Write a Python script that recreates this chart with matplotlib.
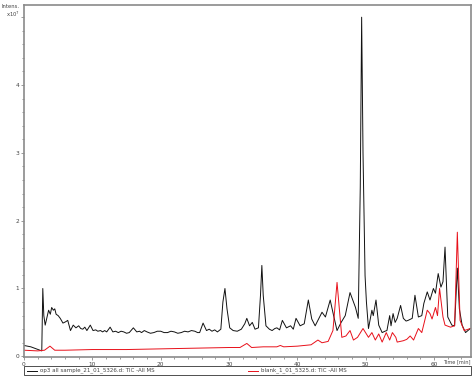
import numpy as np
import matplotlib

matplotlib.use("Agg")
import matplotlib.pyplot as plt
from matplotlib.lines import Line2D
from matplotlib.patches import Rectangle
from matplotlib.ticker import MultipleLocator, FuncFormatter

# retention time (min) and intensity (x10^7)
sample_t = [0.0, 1.0, 2.3, 2.6, 2.75, 2.9, 3.1, 3.3, 3.6, 3.85, 4.05, 4.3, 4.5, 4.7, 5.0,
            5.3, 5.7, 6.1, 6.4, 6.8, 7.2, 7.6, 8.0, 8.3, 8.6, 8.9, 9.2, 9.7, 10.1, 10.5,
            10.8, 11.2, 11.5, 11.8, 12.1, 12.6, 13.0, 13.4, 13.8, 14.2, 14.6, 15.0, 15.4,
            16.0, 16.5, 16.9, 17.2, 17.6, 18.0, 18.5, 19.0, 19.5, 20.0, 20.5, 21.0, 21.5,
            22.0, 22.5, 23.0, 23.5, 24.0, 24.5, 25.0, 25.4, 25.7, 26.2, 26.7, 27.1, 27.5,
            27.9, 28.3, 28.8, 29.1, 29.4, 29.7, 30.1, 30.6, 31.2, 31.8, 32.3, 32.6, 33.0,
            33.4, 33.8, 34.3, 34.6, 34.8, 35.0, 35.4, 35.9, 36.3, 36.7, 37.0, 37.4, 37.8,
            38.4, 39.0, 39.4, 39.8, 40.4, 41.0, 41.6, 42.1, 42.6, 43.1, 43.6, 44.1, 44.8,
            45.3, 45.8, 46.4, 47.0, 47.7, 48.2, 48.5, 48.9, 49.2, 49.4, 49.6, 49.9, 50.1,
            50.4, 50.9, 51.1, 51.5, 51.9, 52.4, 52.8, 53.1, 53.5, 53.7, 54.0, 54.3, 54.6,
            55.1, 55.5, 55.9, 56.2, 56.8, 57.2, 57.7, 58.2, 58.5, 59.0, 59.4, 59.9, 60.2,
            60.6, 61.0, 61.3, 61.6, 62.0, 62.6, 63.0, 63.4, 63.7, 64.1, 64.6, 65.3]
sample_i = [0.16, 0.14, 0.09, 0.08, 1.0, 0.6, 0.46, 0.55, 0.68, 0.62, 0.72, 0.68, 0.70,
            0.62, 0.60, 0.56, 0.49, 0.51, 0.53, 0.38, 0.46, 0.42, 0.45, 0.41, 0.40, 0.43,
            0.38, 0.46, 0.38, 0.39, 0.37, 0.38, 0.36, 0.38, 0.36, 0.43, 0.36, 0.37, 0.35,
            0.37, 0.36, 0.34, 0.35, 0.42, 0.36, 0.37, 0.35, 0.38, 0.36, 0.34, 0.35, 0.37,
            0.37, 0.35, 0.35, 0.37, 0.36, 0.34, 0.35, 0.37, 0.36, 0.38, 0.37, 0.35, 0.35,
            0.49, 0.38, 0.40, 0.37, 0.39, 0.36, 0.40, 0.80, 1.00, 0.70, 0.42, 0.38, 0.37,
            0.40, 0.48, 0.56, 0.45, 0.50, 0.40, 0.42, 0.90, 1.34, 0.90, 0.45, 0.40, 0.38,
            0.41, 0.42, 0.39, 0.53, 0.42, 0.45, 0.40, 0.56, 0.45, 0.48, 0.83, 0.55, 0.45,
            0.55, 0.65, 0.58, 0.83, 0.60, 0.38, 0.50, 0.60, 0.94, 0.80, 0.72, 0.56, 2.5,
            5.0, 3.0, 1.19, 0.80, 0.41, 0.68, 0.60, 0.83, 0.46, 0.35, 0.37, 0.38, 0.60,
            0.45, 0.63, 0.50, 0.56, 0.75, 0.56, 0.52, 0.53, 0.56, 0.90, 0.58, 0.60, 0.78,
            0.95, 0.83, 1.00, 0.93, 1.22, 1.02, 1.10, 1.61, 0.58, 0.46, 0.45, 1.30, 0.70,
            0.46, 0.35, 0.41]

blank_t = [0.0, 2.0, 3.0, 3.8, 4.5, 6.0, 10.0, 15.0, 20.0, 25.0, 30.0, 31.6, 32.6,
           33.3, 35.0, 37.0, 37.5, 38.0, 40.0, 42.0, 43.0, 43.6, 44.5, 45.2, 45.8,
           46.5, 47.1, 47.7, 48.2, 48.8, 49.6, 50.4, 50.9, 51.4, 51.9, 52.4, 53.0,
           53.5, 53.9, 54.4, 54.6, 55.5, 56.0, 56.5, 57.0, 57.7, 58.2, 59.0, 59.4,
           59.7, 60.2, 60.5, 60.8, 61.3, 61.6, 62.4, 63.0, 63.4, 63.8, 64.4, 65.3]
blank_i = [0.09, 0.08, 0.09, 0.15, 0.09, 0.09, 0.10, 0.10, 0.11, 0.12, 0.13, 0.13, 0.19,
           0.13, 0.14, 0.14, 0.16, 0.14, 0.15, 0.17, 0.24, 0.20, 0.22, 0.38, 1.09,
           0.28, 0.30, 0.38, 0.24, 0.28, 0.41, 0.28, 0.35, 0.24, 0.33, 0.21, 0.35,
           0.24, 0.35, 0.28, 0.21, 0.23, 0.25, 0.30, 0.24, 0.41, 0.35, 0.68, 0.63,
           0.55, 0.72, 0.60, 1.00, 0.58, 0.46, 0.43, 0.45, 1.83, 0.53, 0.38, 0.41]

sample_label = "op3 all sample_21_01_5326.d: TIC -All MS"
blank_label = "blank_1_01_5325.d: TIC -All MS"

FRAME = "#8a8a8a"
TXT = "#444444"
BLACK = "#111111"
RED = "#e8101a"
W, H = 474, 378


def fx(px):
    return px / W


def fy(py):
    return 1 - py / H


plt.rcParams.update({"font.family": "DejaVu Sans", "font.size": 4.2})

fig = plt.figure(figsize=(4.74, 3.78), dpi=100)
ax = fig.add_axes([fx(24), fy(357), 447 / W, 352 / H])

ax.plot(sample_t, sample_i, color=BLACK, lw=0.7)
ax.plot(blank_t, blank_i, color=RED, lw=0.7)

ax.set_xlim(0, 65.4)
ax.set_ylim(-0.01, 5.18)
ax.xaxis.set_major_locator(MultipleLocator(10))
ax.xaxis.set_minor_locator(MultipleLocator(2))
ax.yaxis.set_major_locator(MultipleLocator(1))
ax.yaxis.set_minor_locator(MultipleLocator(0.2))
# the top tick (5) carries no label; the scale note sits there instead
ax.yaxis.set_major_formatter(FuncFormatter(lambda v, p: "" if v > 4.5 else f"{v:g}"))
ax.tick_params(which="both", colors=FRAME, labelcolor=TXT, width=0.6, pad=1.2,
               labelsize=4.2)
ax.tick_params(which="major", length=2.2)
ax.tick_params(which="minor", length=1.4)
for s in ax.spines.values():
    s.set_color(FRAME)
    s.set_linewidth(1.2)

fig.text(fx(20), fy(6), "Intens.", ha="right", va="center", fontsize=3.8, color=TXT)
fig.text(fx(20), fy(14), "x10$^7$", ha="right", va="center", fontsize=3.8, color=TXT)
fig.text(fx(471), fy(362), "Time [min]", ha="right", va="center", fontsize=3.6,
         color=TXT)

# legend strip below the axis: one box, two entries
fig.patches.append(Rectangle((fx(24), fy(375)), 447 / W, 9 / H, transform=fig.transFigure,
                             fill=False, edgecolor="#333333", lw=0.6))
for x0, col, lab in [(27, BLACK, sample_label), (248, RED, blank_label)]:
    fig.add_artist(Line2D([fx(x0), fx(x0 + 10)], [fy(370.5), fy(370.5)],
                          transform=fig.transFigure, color=col, lw=0.7))
    fig.text(fx(x0 + 13), fy(370.5), lab, ha="left", va="center", fontsize=4.0,
             color=TXT)

fig.savefig("out.png", dpi=100)
